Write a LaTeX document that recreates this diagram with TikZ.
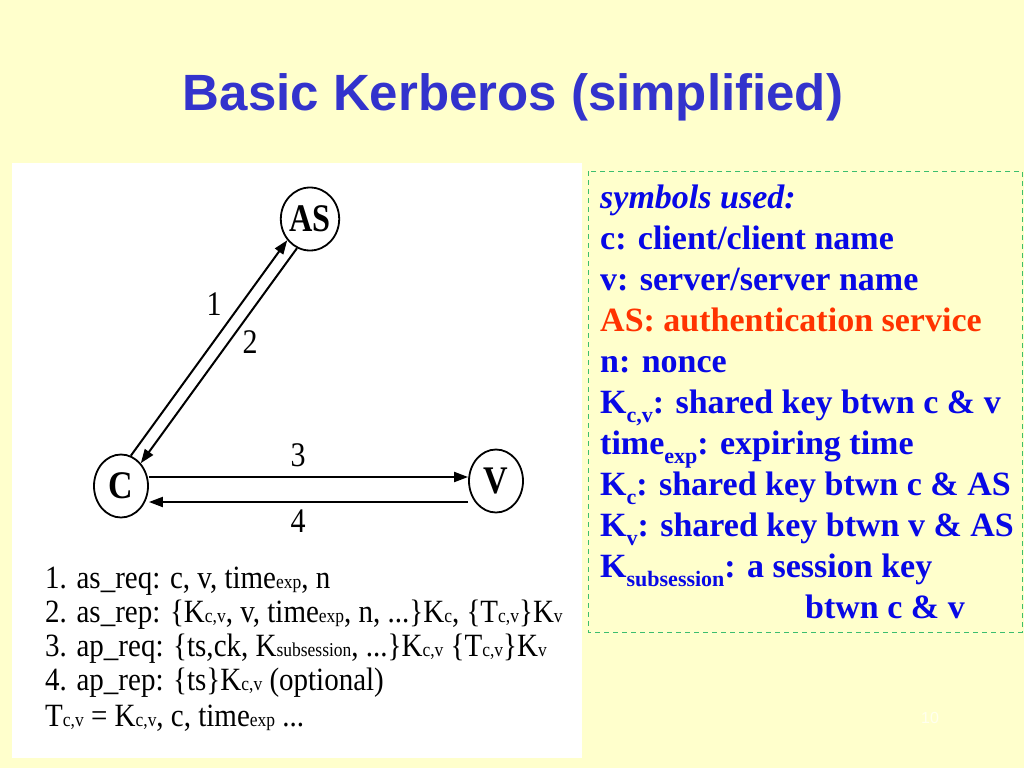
\documentclass[tikz,border=0pt]{standalone}
\usepackage{fontspec}
\usepackage{graphicx}
\setmainfont{Liberation Serif}
\newfontfamily\arialf{Liberation Sans}
\usetikzlibrary{shapes.geometric,arrows.meta}
\definecolor{bg}{HTML}{FFFFCC}
\definecolor{titleblue}{RGB}{51,51,204}
\definecolor{txtblue}{RGB}{8,8,230}
\definecolor{txtred}{RGB}{255,51,0}
\definecolor{boxgreen}{RGB}{60,190,110}
\definecolor{pagenum}{HTML}{FFFFEE}
\newcommand\lsm[1]{{\fontsize{17.5}{17.5}\selectfont #1}}
\newcommand\rsub[1]{\raisebox{-0.28em}{\fontsize{22}{22}\selectfont #1}}
\newcommand\tall[1]{\scalebox{1}[1.12]{#1}}
\tikzset{
  titlestyle/.style={font=\arialf\bfseries\fontsize{51}{60}\selectfont, text=titleblue, inner sep=0},
  party/.style={draw, ellipse, line width=1.8pt, minimum width=54pt, minimum height=63pt, inner sep=0,
     font=\bfseries\fontsize{34}{34}\selectfont},
  arr/.style={line width=2pt, -{Triangle[length=14pt,width=10pt]}},
  numlab/.style={font=\fontsize{30}{30}\selectfont, inner sep=0},
  listline/.style={anchor=base west, inner sep=0, font=\fontsize{29}{34}\selectfont},
  symline/.style={anchor=base west, inner sep=0, font=\bfseries\fontsize{34}{40}\selectfont, text=txtblue},
}
\begin{document}
\begin{tikzpicture}[x=1pt,y=-1pt]
\useasboundingbox (0,0) rectangle (1024,768);
\fill[bg] (0,0) rectangle (1024,768);
\fill[white] (12,163) rectangle (582,758);
\draw[boxgreen, dash pattern=on 5pt off 4pt, line width=1pt] (588,171) rectangle (1022,632);

\node[titlestyle] (title) at (513,97) {Basic Kerberos (simplified)};

% parties
\node[party] (AS) at (310,219) {\scalebox{0.95}[1.15]{AS}};
\node[party] (C) at (121,486) {\scalebox{1}[1.15]{C}};
\node[party] (V) at (496,481) {\scalebox{1}[1.15]{V}};

% connectors
\draw[arr] (C.72) -- (AS.223);
\draw[arr] (AS.246) -- (C.49);
\draw[arr] ([yshift=9pt]C.east) -- ([yshift=4pt]V.west);
\draw[arr] ([yshift=-21pt]V.west) -- ([yshift=-16pt]C.east);

\node[numlab] (l1) at (214,304) {\scalebox{1}[1.15]{1}};
\node[numlab] (l2) at (250,342) {\scalebox{1}[1.15]{2}};
\node[numlab] (l3) at (298,455) {\scalebox{1}[1.15]{3}};
\node[numlab] (l4) at (298,521) {\scalebox{1}[1.15]{4}};

% message list
\node[listline] (m1) at (45,588) {\tall{1. as\_req: c, v, time\lsm{exp}, n}};
\node[listline] (m2) at (45,622) {\tall{2. as\_rep: \{K\lsm{c,v}, v, time\lsm{exp}, n, ...\}K\lsm{c}, \{T\lsm{c,v}\}K\lsm{v}}};
\node[listline] (m3) at (45,656) {\tall{3. ap\_req: \{ts,ck, K\lsm{subsession}, ...\}K\lsm{c,v} \{T\lsm{c,v}\}K\lsm{v}}};
\node[listline] (m4) at (45,690) {\tall{4. ap\_rep: \{ts\}K\lsm{c,v} (optional)}};
\node[listline] (m5) at (45,726) {\tall{T\lsm{c,v} = K\lsm{c,v}, c, time\lsm{exp} ...}};

% symbols
\node[symline] (s0) at (600,208) {\itshape symbols used:};
\node[symline] (s1) at (600,249) {c: client/client name};
\node[symline] (s2) at (600,290) {v: server/server name};
\node[symline, text=txtred] (s3) at (600,331) {AS: authentication service};
\node[symline] (s4) at (600,372) {n: nonce};
\node[symline] (s5) at (600,413) {K\rsub{c,v}: shared key btwn c \& v};
\node[symline] (s6) at (600,454) {time\rsub{exp}: expiring time};
\node[symline] (s7) at (600,495) {K\rsub{c}: shared key btwn c \& AS};
\node[symline] (s8) at (600,536) {K\rsub{v}: shared key btwn v \& AS};
\node[symline] (s9) at (600,577) {K\rsub{subsession}: a session key};
\node[symline] (s10) at (805,618) {btwn c \& v};

\node[font=\arialf\fontsize{16}{16}\selectfont, text=pagenum, inner sep=0] (pg) at (930,718) {10};
\end{tikzpicture}
\end{document}
